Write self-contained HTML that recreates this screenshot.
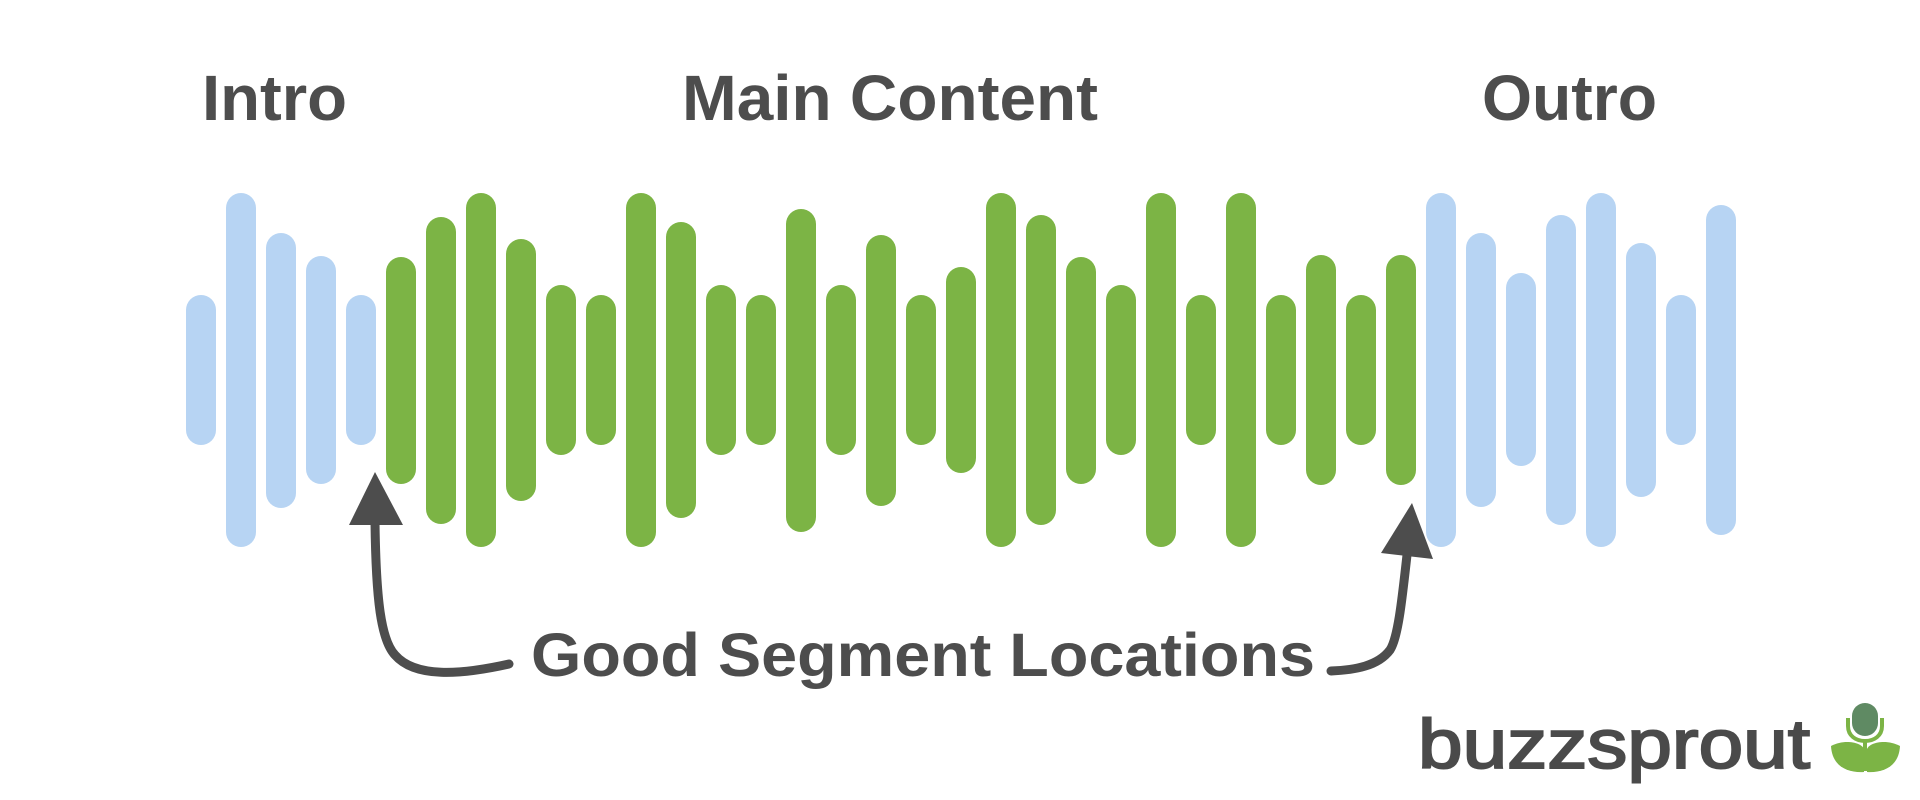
<!DOCTYPE html>
<html><head><meta charset="utf-8"><style>
html,body{margin:0;padding:0;background:#fff;}
svg{display:block;}
text{font-family:"Liberation Sans",sans-serif;}
</style></head><body>
<svg width="1920" height="800" viewBox="0 0 1920 800" xmlns="http://www.w3.org/2000/svg">
<g font-weight="bold" font-size="64" fill="#4d4d4d">
<text x="202" y="120" textLength="145" lengthAdjust="spacingAndGlyphs">Intro</text>
<text x="682" y="120" textLength="416" lengthAdjust="spacingAndGlyphs">Main Content</text>
<text x="1482" y="120" textLength="175" lengthAdjust="spacingAndGlyphs">Outro</text>
</g>
<g stroke-linecap="round" stroke-width="30">
<g stroke="#b7d4f3">
<line x1="201" y1="310" x2="201" y2="430"/>
<line x1="241" y1="208" x2="241" y2="532"/>
<line x1="281" y1="248" x2="281" y2="493"/>
<line x1="321" y1="271" x2="321" y2="469"/>
<line x1="361" y1="310" x2="361" y2="430"/>
<line x1="1441" y1="208" x2="1441" y2="532"/>
<line x1="1481" y1="248" x2="1481" y2="492"/>
<line x1="1521" y1="288" x2="1521" y2="451"/>
<line x1="1561" y1="230" x2="1561" y2="510"/>
<line x1="1601" y1="208" x2="1601" y2="532"/>
<line x1="1641" y1="258" x2="1641" y2="482"/>
<line x1="1681" y1="310" x2="1681" y2="430"/>
<line x1="1721" y1="220" x2="1721" y2="520"/>
</g>
<g stroke="#7cb445">
<line x1="401" y1="272" x2="401" y2="469"/>
<line x1="441" y1="232" x2="441" y2="509"/>
<line x1="481" y1="208" x2="481" y2="532"/>
<line x1="521" y1="254" x2="521" y2="486"/>
<line x1="561" y1="300" x2="561" y2="440"/>
<line x1="601" y1="310" x2="601" y2="430"/>
<line x1="641" y1="208" x2="641" y2="532"/>
<line x1="681" y1="237" x2="681" y2="503"/>
<line x1="721" y1="300" x2="721" y2="440"/>
<line x1="761" y1="310" x2="761" y2="430"/>
<line x1="801" y1="224" x2="801" y2="517"/>
<line x1="841" y1="300" x2="841" y2="440"/>
<line x1="881" y1="250" x2="881" y2="491"/>
<line x1="921" y1="310" x2="921" y2="430"/>
<line x1="961" y1="282" x2="961" y2="458"/>
<line x1="1001" y1="208" x2="1001" y2="532"/>
<line x1="1041" y1="230" x2="1041" y2="510"/>
<line x1="1081" y1="272" x2="1081" y2="469"/>
<line x1="1121" y1="300" x2="1121" y2="440"/>
<line x1="1161" y1="208" x2="1161" y2="532"/>
<line x1="1201" y1="310" x2="1201" y2="430"/>
<line x1="1241" y1="208" x2="1241" y2="532"/>
<line x1="1281" y1="310" x2="1281" y2="430"/>
<line x1="1321" y1="270" x2="1321" y2="470"/>
<line x1="1361" y1="310" x2="1361" y2="430"/>
<line x1="1401" y1="270" x2="1401" y2="470"/>
</g>
</g>
<g fill="none" stroke="#4d4d4d" stroke-width="9" stroke-linecap="round">
<path d="M375,522 C376,600 381,640 395,655 C415,678 460,675 509,664"/>
<path d="M1407,555 C1402,600 1398,638 1390,650 C1378,666 1355,670 1331,671"/>
</g>
<g fill="#4d4d4d">
<polygon points="375,472 349,525 403,525"/>
<polygon points="1412,503 1381,553 1433,559"/>
</g>
<text x="531" y="676" font-weight="bold" font-size="61" fill="#4d4d4d" textLength="784" lengthAdjust="spacingAndGlyphs">Good Segment Locations</text>
<text x="1418" y="768" font-size="70" fill="#4a4a4a" stroke="#4a4a4a" stroke-width="2" textLength="392" lengthAdjust="spacingAndGlyphs">buzzsprout</text>
<g>
<path d="M1831,746 C1844,739 1861,742 1864,749 L1864,772 C1847,773 1832,766 1831,746 Z" fill="#7cb445"/>
<path d="M1900,746 C1887,739 1870,742 1867,749 L1867,772 C1884,773 1899,766 1900,746 Z" fill="#7cb445"/>
<path d="M1848,718 L1848,726 C1848,736 1856,741 1865,741 C1874,741 1882,736 1882,726 L1882,718" fill="none" stroke="#7cb445" stroke-width="4"/>
<line x1="1865" y1="740" x2="1865" y2="771" stroke="#7cb445" stroke-width="4"/>
<rect x="1852" y="703" width="26" height="33" rx="13" fill="#5f8a63"/>
</g>
</svg>
</body></html>
